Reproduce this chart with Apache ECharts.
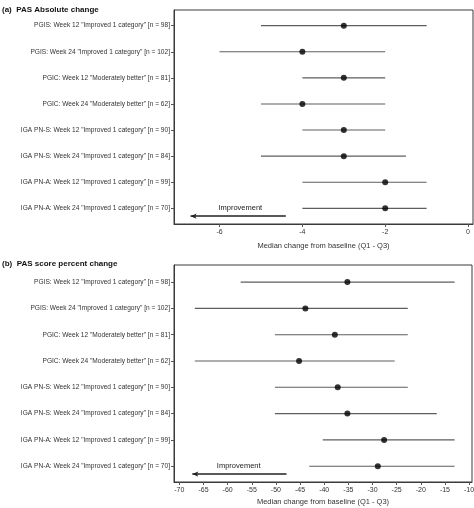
<!DOCTYPE html>
<html>
<head>
<meta charset="utf-8">
<script src="https://cdn.jsdelivr.net/npm/echarts@6/dist/echarts.min.js"></script>
<style>
  html, body { margin: 0; padding: 0; background: #fff; }
  #chart { width: 474px; height: 508px; }
</style>
</head>
<body>
<div id="chart"></div>
<script>
// 分类标签（从上到下）
var categories = [
  'PGIS: Week 12 "Improved 1 category" [n = 98]',
  'PGIS: Week 24 "Improved 1 category" [n = 102]',
  'PGIC: Week 12 "Moderately better" [n = 81]',
  'PGIC: Week 24 "Moderately better" [n = 62]',
  'IGA PN-S: Week 12 "Improved 1 category" [n = 90]',
  'IGA PN-S: Week 24 "Improved 1 category" [n = 84]',
  'IGA PN-A: Week 12 "Improved 1 category" [n = 99]',
  'IGA PN-A: Week 24 "Improved 1 category" [n = 70]'
]

// (a) PAS absolute change
var absMedian = [-3, -4, -3, -4, -3, -3, -2, -2]
var absQ1 = [-5, -6, -4, -5, -4, -5, -4, -4]
var absQ3 = [-1, -2, -2, -2, -2, -1.5, -1, -1]
var absTicks = [-6, -4, -2, 0]
var absArrow = [-4.4, -6.7]

// (b) PAS score percent change
var pctMedian = [-35.2, -43.9, -37.8, -45.2, -37.2, -35.2, -27.6, -28.9]
var pctQ1 = [-57.3, -66.8, -50.2, -66.8, -50.2, -50.2, -40.3, -43.1]
var pctQ3 = [-13, -22.7, -22.7, -25.4, -22.7, -16.7, -13, -13]
var pctTicks = [-70, -65, -60, -55, -50, -45, -40, -35, -30, -25, -20, -15, -10]
var pctArrow = [-47.8, -67.3]

var rowIdx = categories.map(function (c, i) { return i })
var FONT = '"Liberation Sans", Arial, sans-serif'
var boxColor = '#3a3a3a'

function rangeData(q1, q3) {
  return q1.map(function (v, i) { return [v, q3[i], i] })
}
function medianData(m) {
  return m.map(function (v, i) { return [v, i] })
}

// 误差线
function renderRange(params, api) {
  var p1 = api.coord([api.value(0), api.value(2)])
  var p2 = api.coord([api.value(1), api.value(2)])
  return {
    type: 'line',
    shape: { x1: p1[0], y1: p1[1], x2: p2[0], y2: p2[1] },
    style: { stroke: '#5e5e5e', lineWidth: 1.1 }
  }
}

function yAxisOf(gridIndex, min) {
  return {
    type: 'value',
    gridIndex: gridIndex,
    inverse: true,
    min: min,
    max: 7.6,
    splitLine: { show: false },
    axisLine: { show: true, onZero: false, lineStyle: { color: boxColor, width: 1 } },
    axisTick: { show: true, length: 3, customValues: rowIdx, lineStyle: { color: '#555' } },
    axisLabel: {
      customValues: rowIdx,
      margin: 4,
      fontFamily: FONT,
      fontSize: 6.6,
      color: '#333',
      formatter: function (v) { return categories[v] }
    }
  }
}

function xAxisOf(gridIndex, min, max, ticks, gap) {
  return {
    type: 'value',
    gridIndex: gridIndex,
    min: min,
    max: max,
    name: 'Median change from baseline (Q1 - Q3)',
    nameLocation: 'middle',
    nameGap: gap,
    nameTextStyle: { fontFamily: FONT, fontSize: 7.5, color: '#333' },
    splitLine: { show: false },
    axisLine: { show: true, onZero: false, lineStyle: { color: boxColor, width: 1 } },
    axisTick: { show: true, length: 3, customValues: ticks, lineStyle: { color: '#555' } },
    axisLabel: { customValues: ticks, margin: 5, fontFamily: FONT, fontSize: 7, color: '#333' }
  }
}

function arrowLine(arrow, y) {
  return {
    silent: true,
    symbol: ['none', 'arrow'],
    symbolSize: [4, 6],
    label: { show: false },
    lineStyle: { color: '#222', width: 1.6, type: 'solid' },
    data: [[{ coord: [arrow[0], y] }, { coord: [arrow[1], y] }]]
  }
}

function textPoint(x, y) {
  return {
    silent: true,
    symbol: 'circle',
    symbolSize: 1,
    itemStyle: { color: 'rgba(0,0,0,0)' },
    label: {
      show: true,
      position: 'inside',
      formatter: 'Improvement',
      fontFamily: FONT,
      fontSize: 7.5,
      color: '#222'
    },
    data: [{ coord: [x, y] }]
  }
}

var myChart = echarts.init(document.getElementById('chart'))
var option = {
  animation: false,
  title: [
    { text: '(a)  PAS Absolute change', left: -3, top: 1,
      textStyle: { fontFamily: FONT, fontSize: 8, fontWeight: 'bold', color: '#111' } },
    { text: '(b)  PAS score percent change', left: -3, top: 255,
      textStyle: { fontFamily: FONT, fontSize: 8, fontWeight: 'bold', color: '#111' } }
  ],
  grid: [
    { left: 174, top: 10, right: 1, height: 214, outerBoundsMode: 'none',
      show: true, borderColor: boxColor, borderWidth: 1 },
    { left: 174, top: 265, right: 2, height: 217, outerBoundsMode: 'none',
      show: true, borderColor: boxColor, borderWidth: 1 }
  ],
  xAxis: [
    xAxisOf(0, -7.1, 0.12, absTicks, 18),
    xAxisOf(1, -71.1, -9.4, pctTicks, 16)
  ],
  yAxis: [
    yAxisOf(0, -0.6),
    yAxisOf(1, -0.65)
  ],
  series: [
    {
      type: 'custom',
      xAxisIndex: 0, yAxisIndex: 0,
      renderItem: renderRange,
      encode: { x: [0, 1], y: 2 },
      data: rangeData(absQ1, absQ3)
    },
    {
      type: 'scatter',
      xAxisIndex: 0, yAxisIndex: 0,
      symbolSize: 6,
      itemStyle: { color: '#000' },
      data: medianData(absMedian),
      markLine: arrowLine(absArrow, 7.3),
      markPoint: textPoint(-5.5, 7)
    },
    {
      type: 'custom',
      xAxisIndex: 1, yAxisIndex: 1,
      renderItem: renderRange,
      encode: { x: [0, 1], y: 2 },
      data: rangeData(pctQ1, pctQ3)
    },
    {
      type: 'scatter',
      xAxisIndex: 1, yAxisIndex: 1,
      symbolSize: 6,
      itemStyle: { color: '#000' },
      data: medianData(pctMedian),
      markLine: arrowLine(pctArrow, 7.3),
      markPoint: textPoint(-57.7, 7)
    }
  ]
}
myChart.setOption(option)
window.addEventListener('resize', function () {
  myChart.resize()
})
</script>
</body>
</html>
